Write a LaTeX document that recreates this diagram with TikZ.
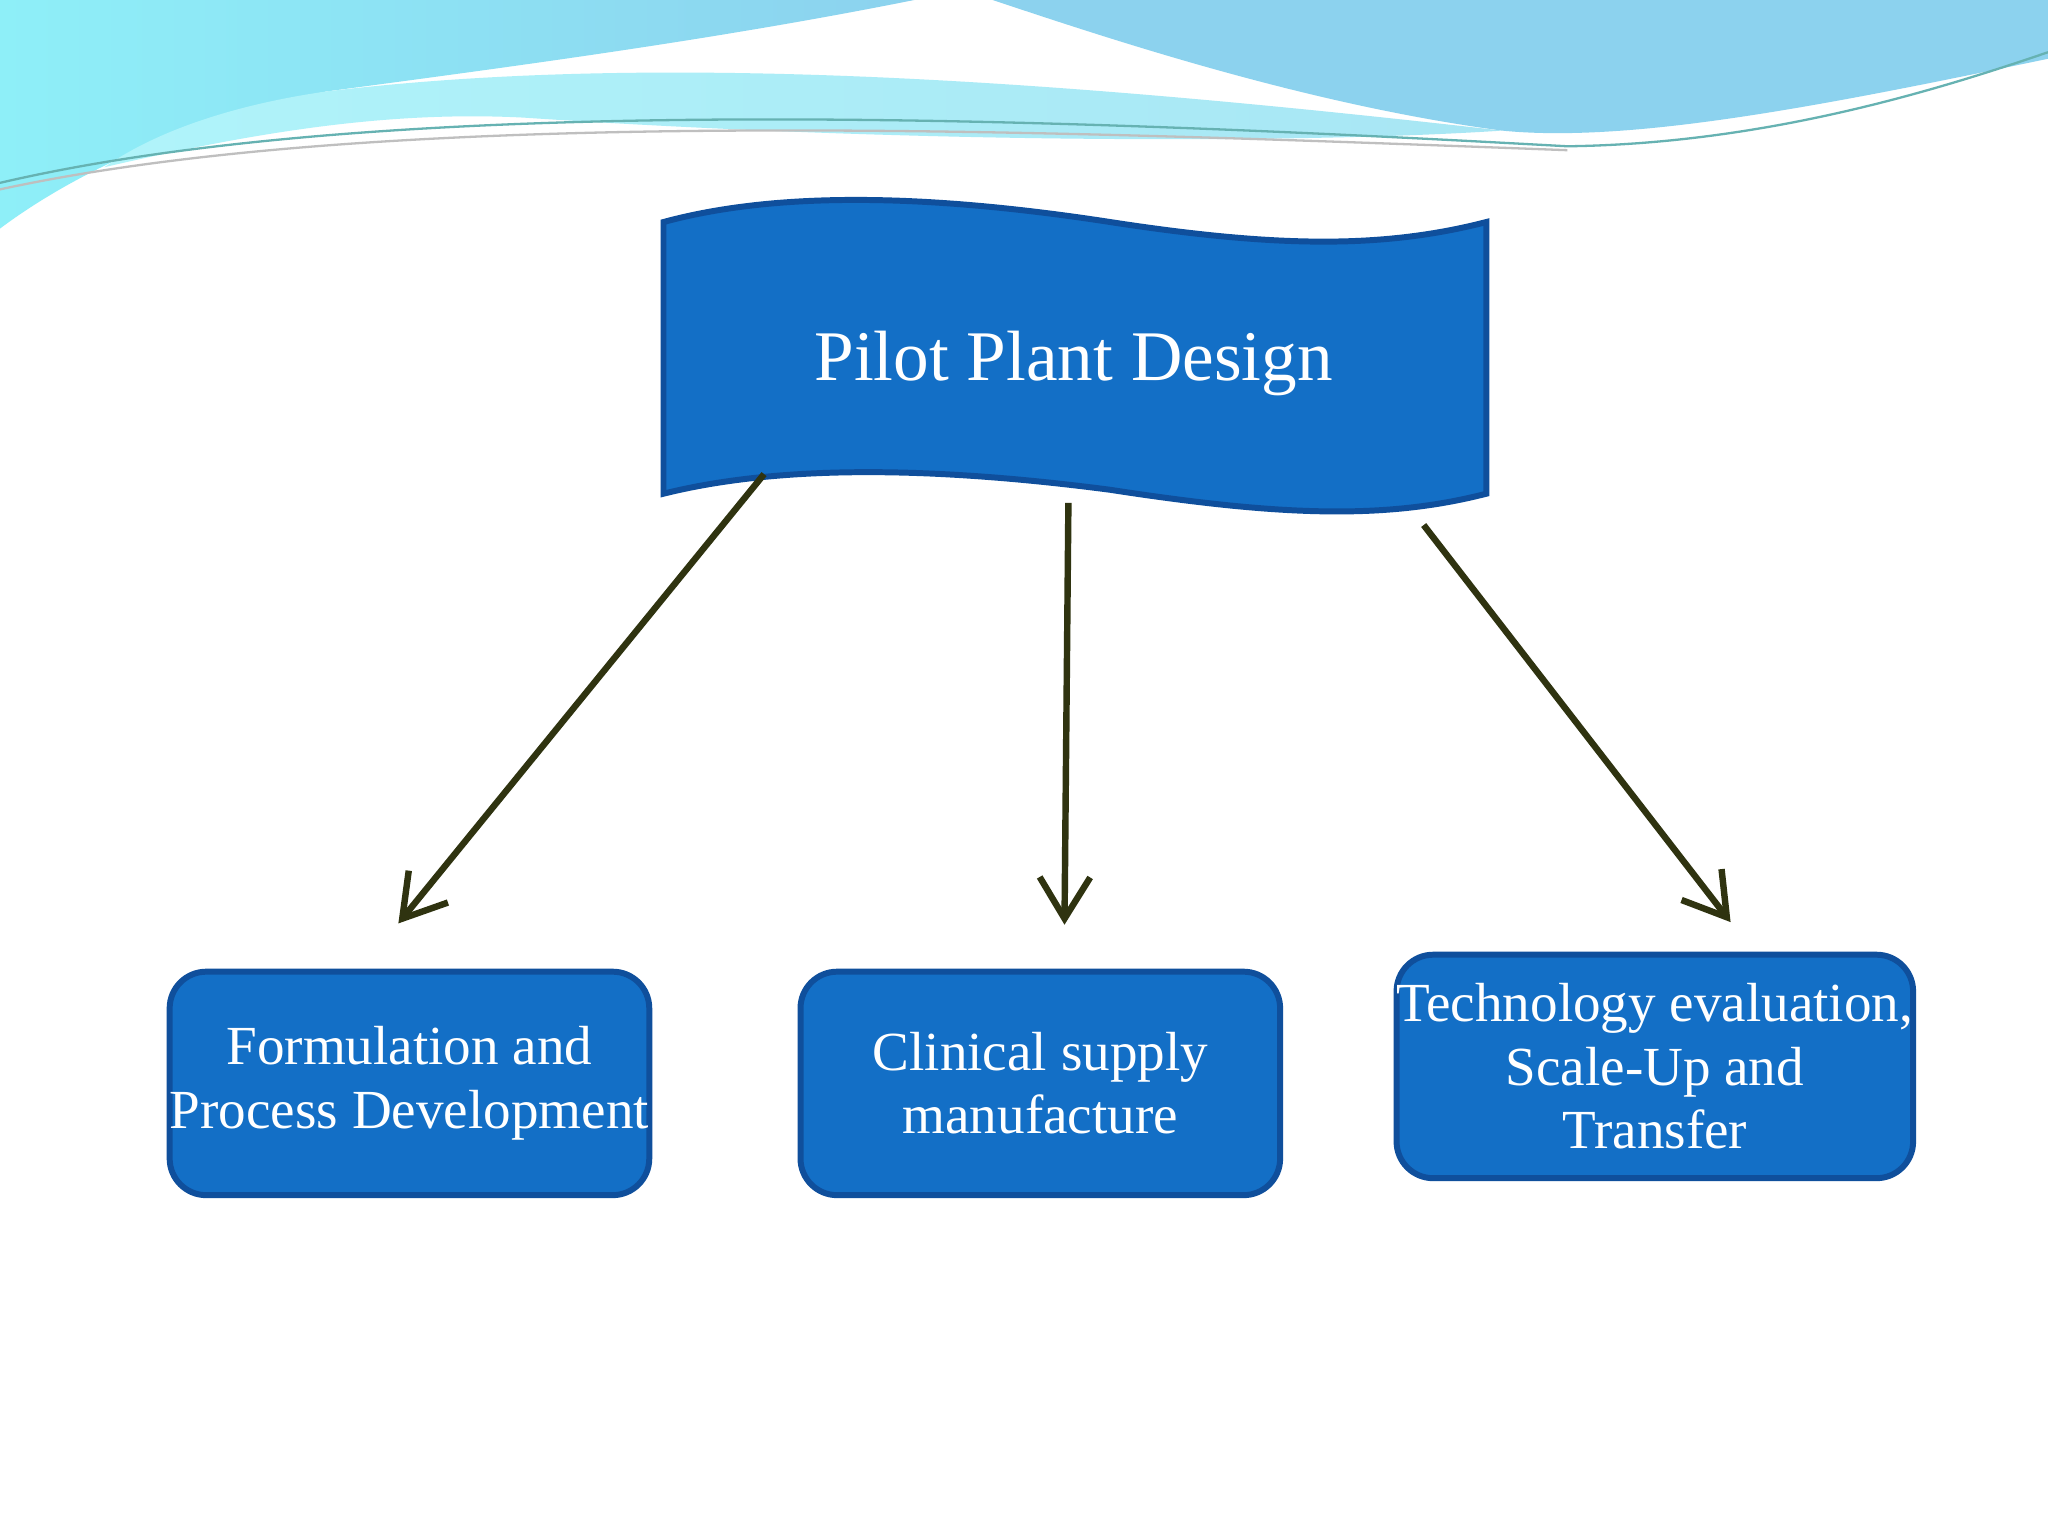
\documentclass[tikz,border=0pt]{standalone}
\usepackage{fontspec}
\setmainfont{Liberation Serif}
\usetikzlibrary{arrows.meta}
\definecolor{boxblue}{HTML}{136FC6}
\definecolor{edgeblue}{HTML}{0F4F9C}
\definecolor{arr}{HTML}{2F3310}
\definecolor{wcyan}{HTML}{8EEFF8}
\definecolor{wblue}{HTML}{8CD2EE}
\definecolor{wmid}{HTML}{A8E6F4}
\begin{document}
\begin{tikzpicture}[x=0.01cm,y=-0.01cm,
  box/.style={draw=edgeblue,line width=1.3pt,fill=boxblue,rounded corners=0.28cm,text=white,align=center,font=\fontsize{12}{13.8}\selectfont,inner sep=0pt},
  conn/.style={draw=arr,line width=1.4pt,-{Straight Barb[length=9pt,width=11pt,line width=1.4pt]}}]
\useasboundingbox (0,0) rectangle (1568,1176);
\fill[white] (0,0) rectangle (1568,1176);
% top waves
\shade[left color=wcyan,right color=wblue] (0,0) -- (700,0) .. controls (550,30) and (400,50) .. (250,70) .. controls (150,90) and (60,130) .. (0,175) -- cycle;
\fill[wblue] (760,0) -- (1568,0) -- (1568,45) .. controls (1400,80) and (1250,110) .. (1150,100) .. controls (1000,80) and (850,30) .. (760,0) -- cycle;
\shade[left color=wcyan!70,right color=wmid] (250,70) .. controls (500,40) and (800,60) .. (1150,100) .. controls (1000,110) and (700,110) .. (400,90) .. controls (300,85) and (200,100) .. (80,128) .. controls (120,100) and (180,80) .. (250,70);
\draw[teal!60,line width=0.5pt] (0,140) .. controls (300,70) and (800,90) .. (1200,112) .. controls (1350,110) and (1480,70) .. (1568,40);
\draw[gray!50,line width=0.5pt] (0,145) .. controls (300,80) and (800,100) .. (1200,115);
% banner
\draw[draw=edgeblue,line width=1.3pt,fill=boxblue] (508,170) .. controls (600,145) and (720,150) .. (850,170) .. controls (980,190) and (1060,190) .. (1138,170) -- (1138,378) .. controls (1060,398) and (980,395) .. (850,375) .. controls (720,358) and (600,355) .. (508,378) -- cycle;
\node[text=white,font=\fontsize{15.5}{18}\selectfont] (title) at (822,278) {Pilot Plant Design};
\coordinate (s1) at (585,363);
\coordinate (s2) at (818,385);
\coordinate (s3) at (1090,402);
% boxes
\node[box,minimum width=3.67cm,minimum height=1.71cm] (b1) at (313.5,829.5) {Formulation and\\Process Development};
\node[box,minimum width=3.67cm,minimum height=1.71cm] (b2) at (796.5,829.5) {Clinical supply\\manufacture};
\node[box,minimum width=3.94cm,minimum height=1.71cm] (b3) at (1267,816.5) {Technology evaluation,\\Scale-Up and\\Transfer};
\coordinate (e1) at (305,707);
\coordinate (e2) at (815,708);
\coordinate (e3) at (1325,706);
\draw[conn] (s1) -- (e1);
\draw[conn] (s2) -- (e2);
\draw[conn] (s3) -- (e3);
\end{tikzpicture}
\end{document}
